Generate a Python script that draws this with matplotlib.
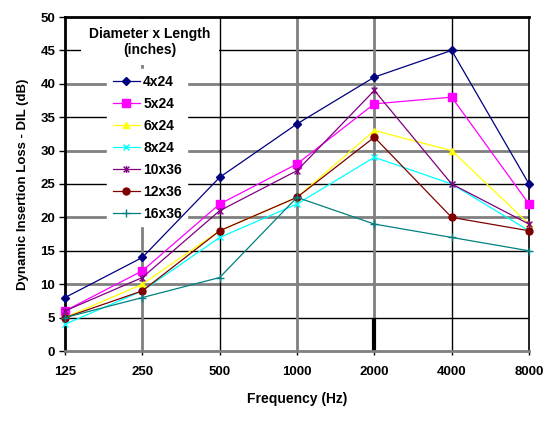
import matplotlib.pyplot as plt
from matplotlib.path import Path

plt.rcParams['font.family'] = ['Liberation Sans', 'DejaVu Sans']

freqs = ["125", "250", "500", "1000", "2000", "4000", "8000"]
sizes = ["4x24", "5x24", "6x24", "8x24", "10x36", "12x36", "16x36"]
dil_4x24 = [8, 14, 26, 34, 41, 45, 25]
dil_5x24 = [6, 12, 22, 28, 37, 38, 22]
dil_6x24 = [5, 10, 18, 23, 33, 30, 19]
dil_8x24 = [4, 9, 17, 22, 29, 25, 18]
dil_10x36 = [6, 11, 21, 27, 39, 25, 19]
dil_12x36 = [5, 9, 18, 23, 32, 20, 18]
dil_16x36 = [5, 8, 11, 23, 19, 17, 15]
series = [dil_4x24, dil_5x24, dil_6x24, dil_8x24, dil_10x36, dil_12x36, dil_16x36]

# odd thick stub at 2000 Hz in the original
stub_x = "2000"
stub_top = 4.6

# excel-style star: an x with a vertical bar through it
star = Path([(-1, -1), (1, 1), (-1, 1), (1, -1), (0, -1.2), (0, 1.2)],
            [Path.MOVETO, Path.LINETO, Path.MOVETO, Path.LINETO, Path.MOVETO, Path.LINETO])

colors = ["#000080", "#FF00FF", "#FFFF00", "#00FFFF", "#800080", "#800000", "#008080"]
markers = ["D", "s", "^", "x", star, "o", "+"]
msizes = [4.5, 6, 5, 5, 5, 5, 6]

W, H = 552, 423
fig = plt.figure(figsize=(W / 100, H / 100), dpi=100)
ax = fig.add_axes([65 / W, 1 - 351 / H, 464 / W, 334 / H])

xs = range(len(freqs))
for vals, name, c, m, ms in zip(series, sizes, colors, markers, msizes):
    ax.plot(xs, vals, color=c, marker=m, markersize=ms, lw=0.9,
            markeredgewidth=1.0, label=name, zorder=3, clip_on=False)

# gridlines, alternating grey / black like the original
for y in range(5, 50, 10):
    ax.axhline(y, color="black", lw=1, zorder=1)
for y in range(10, 50, 10):
    ax.axhline(y, color="#808080", lw=2, zorder=1)
for i, f in enumerate(freqs):
    if f in ("250", "1000", "2000"):
        ax.axvline(i, color="#808080", lw=2, zorder=1)
    elif f in ("500", "4000"):
        ax.axvline(i, color="black", lw=1, zorder=1)

sx = freqs.index(stub_x)
ax.plot([sx, sx], [0, stub_top], color="black", lw=3, zorder=2)

ax.set_xlim(0, len(freqs) - 1)
ax.set_ylim(0, 50)
ax.set_yticks(range(0, 51, 5))
ax.set_xticks(list(xs))
ax.set_xticklabels(freqs)
ax.tick_params(axis="y", length=4, width=1, pad=3, labelsize=9.5)
ax.tick_params(axis="x", length=3, width=1, pad=8, labelsize=9.5)
for lab in ax.get_xticklabels() + ax.get_yticklabels():
    lab.set_fontweight("bold")

ax.spines["left"].set_linewidth(2)
ax.spines["top"].set_linewidth(2)
ax.spines["right"].set_linewidth(1.2)
ax.spines["bottom"].set_color("#808080")
ax.spines["bottom"].set_linewidth(2)
for s in ax.spines.values():
    s.set_zorder(2)

ax.set_xlabel("Frequency (Hz)", fontsize=10, fontweight="bold", labelpad=10)
ax.set_ylabel("Dynamic Insertion Loss - DIL (dB)", fontsize=9.5, fontweight="bold", labelpad=8)

leg = ax.legend(loc="upper left", bbox_to_anchor=(107 / W, 1 - 69 / H),
                bbox_transform=fig.transFigure, frameon=True, fancybox=False,
                edgecolor="white", facecolor="white", framealpha=1,
                prop={"size": 10, "weight": "bold"}, handlelength=2.0,
                handletextpad=0.2, labelspacing=0.58, borderpad=0.4,
                borderaxespad=0)
# keep the white box over the grid but under the data lines
leg.set_zorder(2.5)

fig.text(150 / W, 1 - 42 / H, "Diameter x Length\n(inches)", ha="center", va="center",
         fontsize=10, fontweight="bold", linespacing=1.15, zorder=5,
         bbox=dict(facecolor="white", edgecolor="none", pad=6))

fig.savefig("out.png", dpi=100)
